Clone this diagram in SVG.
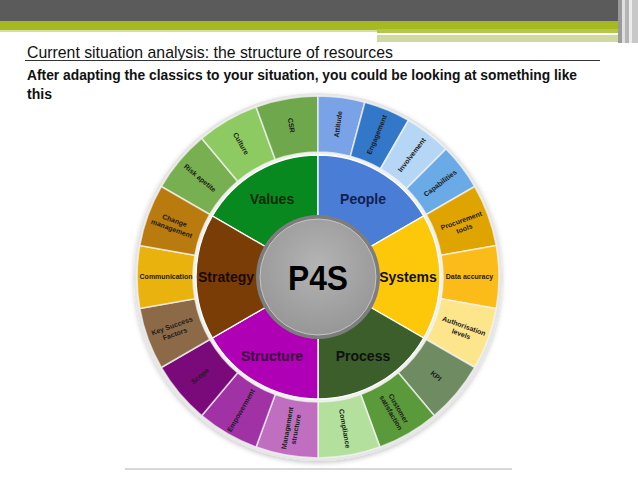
<svg xmlns="http://www.w3.org/2000/svg" width="638" height="478" viewBox="0 0 638 478">
<defs>
<style>
.seg{stroke:#f4f4f4;stroke-opacity:0.75;stroke-width:1.6;stroke-linejoin:round}
.sec{stroke:#ffffff;stroke-width:1.3}
.ol{font-family:"Liberation Sans",Arial,sans-serif;font-size:7px;font-weight:bold;fill:#1c1c1c;text-anchor:middle}
.sl{font-family:"Liberation Sans",Arial,sans-serif;font-size:14px;font-weight:bold;text-anchor:middle}
</style>
<radialGradient id="hub" cx="50%" cy="40%" r="60%">
<stop offset="0" stop-color="#b4b4b4"/>
<stop offset="1" stop-color="#979797"/>
</radialGradient>
<filter id="sh" x="-10%" y="-10%" width="120%" height="120%">
<feDropShadow dx="0" dy="2" stdDeviation="2.5" flood-color="#000" flood-opacity="0.22"/>
</filter>
</defs>
<rect width="638" height="478" fill="#ffffff"/>
<g id="header">
<rect x="0" y="0" width="638" height="21" fill="#5b5b5b"/>
<rect x="0" y="21" width="638" height="9" fill="#a6b920"/>
<rect x="0" y="30" width="638" height="2" fill="#d6dea0"/>
<rect x="377" y="29" width="248" height="4" fill="#b6c64c"/>
<rect x="377" y="33" width="213" height="2" fill="#ffffff"/>
<rect x="377" y="35" width="248" height="7" fill="#d0daa0"/>
<rect x="618" y="0" width="4" height="43" fill="#9a9a9a"/>
<rect x="622" y="0" width="3" height="43" fill="#e0e0e0"/>
<rect x="625" y="0" width="4" height="43" fill="#b5b5b5"/>
<rect x="629" y="0" width="3" height="43" fill="#ececec"/>
<rect x="632" y="0" width="6" height="43" fill="#c8c8c8"/>
</g>
<g id="title">
<text x="27" y="58" font-family="'Liberation Sans Narrow','Liberation Sans',Arial,sans-serif" font-size="17" fill="#111" textLength="366" lengthAdjust="spacingAndGlyphs">Current situation analysis: the structure of resources</text>
<line x1="25" y1="60.5" x2="600" y2="60.5" stroke="#333" stroke-width="1"/>
<text x="27" y="80" font-family="'Liberation Sans',Arial,sans-serif" font-size="14" font-weight="bold" fill="#111" textLength="550" lengthAdjust="spacingAndGlyphs">After adapting the classics to your situation, you could be looking at something like</text>
<text x="27" y="99" font-family="'Liberation Sans',Arial,sans-serif" font-size="14" font-weight="bold" fill="#111" textLength="25" lengthAdjust="spacingAndGlyphs">this</text>
</g>
<line x1="125" y1="469" x2="512" y2="469" stroke="#d8d8d8" stroke-width="2"/>
<g id="wheel">
<circle cx="318" cy="277" r="184" fill="#e6e6e6" filter="url(#sh)"/>
<circle cx="318" cy="277" r="125" fill="#eef0ea"/>
<g id="risk-apetite"><path class="seg" fill="#78b051" d="M161.25,186.5 A181,181 0 0 1 201.65,138.35 L237.65,181.24 A125,125 0 0 0 209.75,214.5 Z"/><text class="ol" transform="translate(200,178) rotate(40)" dy="2.4">Risk apetite</text></g>
<g id="culture"><path class="seg" fill="#8dca62" d="M201.65,138.35 A181,181 0 0 1 256.09,106.91 L275.25,159.54 A125,125 0 0 0 237.65,181.24 Z"/><text class="ol" transform="translate(241,143.6) rotate(60)" dy="2.4">Culture</text></g>
<g id="csr"><path class="seg" fill="#6fa84c" d="M256.09,106.91 A181,181 0 0 1 318,96 L318,152 A125,125 0 0 0 275.25,159.54 Z"/><text class="ol" transform="translate(291.3,125.3) rotate(80)" dy="2.4">CSR</text></g>
<g id="attitude"><path class="seg" fill="#7aa2e6" d="M318,96 A181,181 0 0 1 364.85,102.17 L350.35,156.26 A125,125 0 0 0 318,152 Z"/><text class="ol" transform="translate(338.1,124.3) rotate(-82.5)" dy="2.4">Attitude</text></g>
<g id="engagement"><path class="seg" fill="#3377c8" d="M364.85,102.17 A181,181 0 0 1 408.5,120.25 L380.5,168.75 A125,125 0 0 0 350.35,156.26 Z"/><text class="ol" transform="translate(376.9,134.7) rotate(-67.5)" dy="2.4">Engagement</text></g>
<g id="involvement"><path class="seg" fill="#b5d6f4" d="M408.5,120.25 A181,181 0 0 1 445.99,149.01 L406.39,188.61 A125,125 0 0 0 380.5,168.75 Z"/><text class="ol" transform="translate(411.8,154.8) rotate(-52.5)" dy="2.4">Involvement</text></g>
<g id="capabilities"><path class="seg" fill="#6aaae6" d="M445.99,149.01 A181,181 0 0 1 474.75,186.5 L426.25,214.5 A125,125 0 0 0 406.39,188.61 Z"/><text class="ol" transform="translate(440.2,183.2) rotate(-37.5)" dy="2.4">Capabilities</text></g>
<g id="procurement-tools"><path class="seg" fill="#e0a400" d="M474.75,186.5 A181,181 0 0 1 496.25,245.57 L441.1,255.29 A125,125 0 0 0 426.25,214.5 Z"/><text class="ol" transform="translate(462.7,224.3) rotate(-20)"><tspan x="0" dy="-1.6">Procurement</tspan><tspan x="0" dy="8.6">tools</tspan></text></g>
<g id="data-accuracy"><path class="seg" fill="#fbbc1a" d="M496.25,245.57 A181,181 0 0 1 496.25,308.43 L441.1,298.71 A125,125 0 0 0 441.1,255.29 Z"/><text class="ol" transform="translate(469.5,277)" dy="2.4">Data accuracy</text></g>
<g id="authorisation-levels"><path class="seg" fill="#fde58c" d="M496.25,308.43 A181,181 0 0 1 474.75,367.5 L426.25,339.5 A125,125 0 0 0 441.1,298.71 Z"/><text class="ol" transform="translate(462.7,329.7) rotate(20)"><tspan x="0" dy="-1.6">Authorisation</tspan><tspan x="0" dy="8.6">levels</tspan></text></g>
<g id="kpi"><path class="seg" fill="#6e8b62" d="M474.75,367.5 A181,181 0 0 1 434.35,415.65 L398.35,372.76 A125,125 0 0 0 426.25,339.5 Z"/><text class="ol" transform="translate(436,376) rotate(40)" dy="2.4">KPI</text></g>
<g id="customer-satisfaction"><path class="seg" fill="#5a9a3a" d="M434.35,415.65 A181,181 0 0 1 379.91,447.09 L360.75,394.46 A125,125 0 0 0 398.35,372.76 Z"/><text class="ol" transform="translate(395,410.4) rotate(60)"><tspan x="0" dy="-1.6">Customer</tspan><tspan x="0" dy="8.6">satisfaction</tspan></text></g>
<g id="compliance"><path class="seg" fill="#b3e09c" d="M379.91,447.09 A181,181 0 0 1 318,458 L318,402 A125,125 0 0 0 360.75,394.46 Z"/><text class="ol" transform="translate(344.7,428.7) rotate(80)" dy="2.4">Compliance</text></g>
<g id="management-structure"><path class="seg" fill="#c06ec0" d="M318,458 A181,181 0 0 1 256.09,447.09 L275.25,394.46 A125,125 0 0 0 318,402 Z"/><text class="ol" transform="translate(291.3,428.7) rotate(-80)"><tspan x="0" dy="-1.6">Management</tspan><tspan x="0" dy="8.6">structure</tspan></text></g>
<g id="empowerment"><path class="seg" fill="#a032a6" d="M256.09,447.09 A181,181 0 0 1 201.65,415.65 L237.65,372.76 A125,125 0 0 0 275.25,394.46 Z"/><text class="ol" transform="translate(241,410.4) rotate(-60)" dy="2.4">Empowerment</text></g>
<g id="scope"><path class="seg" fill="#7a0a7a" d="M201.65,415.65 A181,181 0 0 1 161.25,367.5 L209.75,339.5 A125,125 0 0 0 237.65,372.76 Z"/><text class="ol" transform="translate(200,376) rotate(-40)" dy="2.4">Scope</text></g>
<g id="key-success-factors"><path class="seg" fill="#8c6a48" d="M161.25,367.5 A181,181 0 0 1 139.75,308.43 L194.9,298.71 A125,125 0 0 0 209.75,339.5 Z"/><text class="ol" transform="translate(173.3,329.7) rotate(-20)"><tspan x="0" dy="-1.6">Key Success</tspan><tspan x="0" dy="8.6">Factors</tspan></text></g>
<g id="communication"><path class="seg" fill="#e9b20c" d="M139.75,308.43 A181,181 0 0 1 139.75,245.57 L194.9,255.29 A125,125 0 0 0 194.9,298.71 Z"/><text class="ol" transform="translate(166,277)" dy="2.4">Communication</text></g>
<g id="change-management"><path class="seg" fill="#b97a0e" d="M139.75,245.57 A181,181 0 0 1 161.25,186.5 L209.75,214.5 A125,125 0 0 0 194.9,255.29 Z"/><text class="ol" transform="translate(173.3,224.3) rotate(20)"><tspan x="0" dy="-1.6">Change</tspan><tspan x="0" dy="8.6">management</tspan></text></g>
<g id="values"><path class="sec" fill="#08891f" d="M318,277 L212.35,216 A122,122 0 0 1 318,155 Z"/><text class="sl" x="272" y="204" fill="#0b2a0b">Values</text></g>
<g id="people"><path class="sec" fill="#4a7dd6" d="M318,277 L318,155 A122,122 0 0 1 423.65,216 Z"/><text class="sl" x="363" y="204" fill="#14204d">People</text></g>
<g id="systems"><path class="sec" fill="#fec80a" d="M318,277 L423.65,216 A122,122 0 0 1 423.65,338 Z"/><text class="sl" x="408" y="282" fill="#111">Systems</text></g>
<g id="process"><path class="sec" fill="#3b5e2a" d="M318,277 L423.65,338 A122,122 0 0 1 318,399 Z"/><text class="sl" x="363" y="361" fill="#111">Process</text></g>
<g id="structure"><path class="sec" fill="#b000b6" d="M318,277 L318,399 A122,122 0 0 1 212.35,338 Z"/><text class="sl" x="272" y="361" fill="#3d003d">Structure</text></g>
<g id="strategy"><path class="sec" fill="#7b3d06" d="M318,277 L212.35,338 A122,122 0 0 1 212.35,216 Z"/><text class="sl" x="226" y="282" fill="#1a0a00">Strategy</text></g>
<g id="p4s">
<circle cx="318" cy="277" r="62" fill="#7d7d7d"/>
<circle cx="318" cy="277" r="58" fill="url(#hub)" stroke="#c4c4c4" stroke-width="1"/>
<text x="318" y="290" font-family="'Liberation Sans',Arial,sans-serif" font-size="35" font-weight="bold" fill="#000" text-anchor="middle" textLength="60" lengthAdjust="spacingAndGlyphs">P4S</text>
</g>
</g>
</svg>
